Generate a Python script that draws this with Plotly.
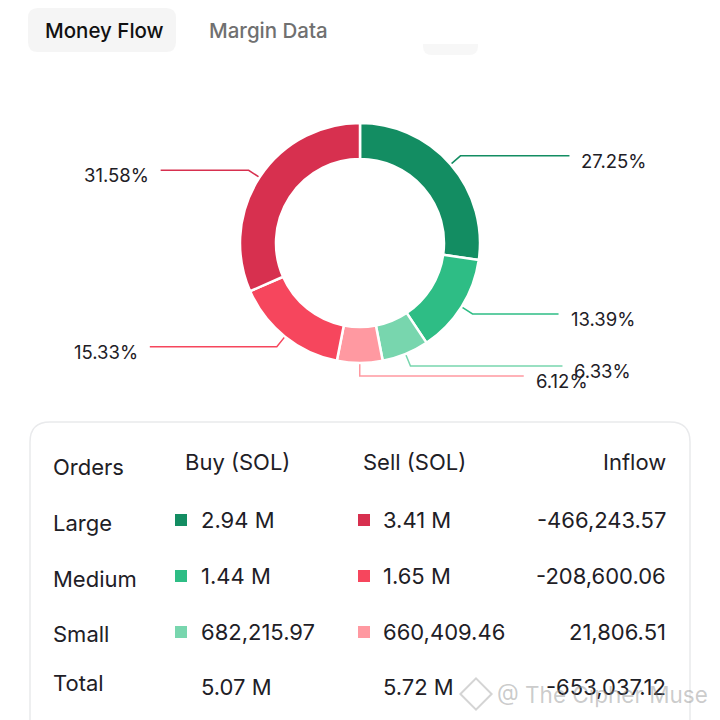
import numpy as np
import plotly.graph_objects as go

# ============================================================
# Data
# ============================================================

# donut slices, clockwise from 12 o'clock
slice_names = ["Large buy", "Medium buy", "Small buy", "Small sell", "Medium sell", "Large sell"]
slice_pct = [27.25, 13.39, 6.33, 6.12, 15.33, 31.58]
slice_colors = ["#138D62", "#2EBD85", "#78D6AE", "#FF99A1", "#F6465D", "#D7304F"]

# table
table_header = ["Orders", "Buy (SOL)", "Sell (SOL)", "Inflow"]
orders = ["Large", "Medium", "Small", "Total"]
buy_text = ["2.94 M", "1.44 M", "682,215.97", "5.07 M"]
sell_text = ["3.41 M", "1.65 M", "660,409.46", "5.72 M"]
inflow_text = ["-466,243.57", "-208,600.06", "21,806.51", "-653,037.12"]
buy_colors = ["#138D62", "#2EBD85", "#78D6AE"]
sell_colors = ["#D7304F", "#F6465D", "#FF99A1"]

tabs = ["Money Flow", "Margin Data"]

# ============================================================
# Layout constants (pixels, 720x720 page)
# ============================================================

W = H = 720
CX, CY, R = 360, 243, 120
HOLE = 0.70
EXT = 13                                   # radial part of leader line
LINE2 = [109, 86, 152, 164, 127, 88]       # horizontal part of leader line
FONT = "Inter"
INK = "#1E2026"
TABLE_SIZE = 22

fig = go.Figure()

# ------------------------------------------------------------
# Donut
# ------------------------------------------------------------
fig.add_trace(go.Pie(
    labels=slice_names,
    values=slice_pct,
    sort=False,
    direction="clockwise",
    rotation=0,
    hole=HOLE,
    textinfo="none",
    hoverinfo="skip",
    showlegend=False,
    marker=dict(colors=slice_colors, line=dict(color="white", width=2.5)),
    domain=dict(x=[(CX - R) / W, (CX + R) / W], y=[1 - (CY + R) / H, 1 - (CY - R) / H]),
))

# leader lines + percentage labels, from slice mid angles
cum = np.concatenate([[0], np.cumsum(slice_pct)])
mid_deg = (cum[:-1] + cum[1:]) / 2 * 3.6
annotations = []
for i, deg in enumerate(mid_deg):
    a = np.deg2rad(deg)
    sx, sy = CX + R * np.sin(a), CY - R * np.cos(a)
    ex, ey = sx + EXT * np.sin(a), sy - EXT * np.cos(a)
    right = deg < 185
    hx = ex + LINE2[i] if right else ex - LINE2[i]
    fig.add_trace(go.Scatter(
        x=[sx, ex, hx], y=[sy, ey, ey], mode="lines",
        line=dict(color=slice_colors[i], width=1.5),
        hoverinfo="skip", showlegend=False,
    ))
    annotations.append(dict(
        x=hx + (10 if right else -10), y=ey + 5, xref="x", yref="y",
        text=f"{slice_pct[i]:.2f}%", showarrow=False,
        xanchor="left" if right else "right", yanchor="middle",
        font=dict(family=FONT, size=18.5, color=INK),
    ))

# ------------------------------------------------------------
# Tabs
# ------------------------------------------------------------
def rounded_rect(x0, y0, x1, y1, r):
    return (f"M{x0+r},{y0} L{x1-r},{y0} Q{x1},{y0} {x1},{y0+r} "
            f"L{x1},{y1-r} Q{x1},{y1} {x1-r},{y1} L{x0+r},{y1} "
            f"Q{x0},{y1} {x0},{y1-r} L{x0},{y0+r} Q{x0},{y0} {x0+r},{y0} Z")


shapes = [
    dict(type="path", path=rounded_rect(28, 8, 176, 52, 10), xref="x", yref="y",
         fillcolor="#F5F5F5", line=dict(width=0), layer="below"),
    dict(type="path", path=rounded_rect(423, 30, 478, 55, 9), xref="x", yref="y",
         fillcolor="#F7F7F7", line=dict(width=0), layer="below"),
    dict(type="path", path=rounded_rect(30, 422, 690, 760, 20), xref="x", yref="y",
         fillcolor="rgba(0,0,0,0)", line=dict(color="#E9EAEC", width=1.5), layer="below"),
]
# hide the top part of the faint chip (it sits under the tab bar)
shapes.append(dict(type="rect", x0=415, x1=485, y0=20, y1=44, xref="x", yref="y",
                   fillcolor="white", line=dict(width=0), layer="below"))

annotations.append(dict(x=43, y=30, xref="x", yref="y", text=tabs[0], showarrow=False,
                        xanchor="left", yanchor="middle",
                        font=dict(family=FONT, size=20.5, color="#111111", weight=500)))
annotations.append(dict(x=207, y=30, xref="x", yref="y", text=tabs[1], showarrow=False,
                        xanchor="left", yanchor="middle",
                        font=dict(family=FONT, size=20.5, color="#707070", weight=500)))

# ------------------------------------------------------------
# Table
# ------------------------------------------------------------
HEAD_Y = [467, 462, 462, 462]
HEAD_X = [51, 183, 361, 668]
HEAD_ANCHOR = ["left", "left", "left", "right"]
ROW_Y = [520, 576, 632, 687]
LABEL_Y = [523, 579, 634, 683]
BUY_SQ_X, BUY_TX_X = 181, 199
SELL_SQ_X, SELL_TX_X = 364, 381
INFLOW_X = 668

for txt, x, y, anc in zip(table_header, HEAD_X, HEAD_Y, HEAD_ANCHOR):
    annotations.append(dict(x=x, y=y, xref="x", yref="y", text=txt, showarrow=False,
                            xanchor=anc, yanchor="middle",
                            font=dict(family=FONT, size=TABLE_SIZE, color=INK)))

for i, name in enumerate(orders):
    annotations.append(dict(x=51, y=LABEL_Y[i], xref="x", yref="y", text=name, showarrow=False,
                            xanchor="left", yanchor="middle",
                            font=dict(family=FONT, size=TABLE_SIZE, color=INK)))
    for txt, x in ((buy_text[i], BUY_TX_X), (sell_text[i], SELL_TX_X)):
        annotations.append(dict(x=x, y=ROW_Y[i], xref="x", yref="y", text=txt, showarrow=False,
                                xanchor="left", yanchor="middle",
                                font=dict(family=FONT, size=TABLE_SIZE, color=INK)))
    annotations.append(dict(x=INFLOW_X, y=ROW_Y[i], xref="x", yref="y", text=inflow_text[i],
                            showarrow=False, xanchor="right", yanchor="middle",
                            font=dict(family=FONT, size=TABLE_SIZE, color=INK)))

# colour chips
fig.add_trace(go.Scatter(
    x=[BUY_SQ_X] * len(buy_colors) + [SELL_SQ_X] * len(sell_colors),
    y=ROW_Y[:3] + ROW_Y[:3],
    mode="markers",
    marker=dict(symbol="square", size=12, color=buy_colors + sell_colors, line=dict(width=0)),
    hoverinfo="skip", showlegend=False,
))

# watermark
fig.add_trace(go.Scatter(
    x=[476], y=[694], mode="markers",
    marker=dict(symbol="diamond-open", size=24, color="rgba(160,160,160,0.45)",
                line=dict(width=2)),
    hoverinfo="skip", showlegend=False,
))
annotations.append(dict(x=495, y=694, xref="x", yref="y", text="@ The Cipher Muse",
                        showarrow=False, xanchor="left", yanchor="middle",
                        font=dict(family=FONT, size=22.5, color="rgba(140,140,140,0.45)")))

fig.update_layout(
    width=W, height=H,
    margin=dict(l=0, r=0, t=0, b=0),
    paper_bgcolor="white", plot_bgcolor="white",
    xaxis=dict(range=[0, W], visible=False, fixedrange=True),
    yaxis=dict(range=[H, 0], visible=False, fixedrange=True),
    shapes=shapes,
    annotations=annotations,
    showlegend=False,
)

fig.write_html("out.html", config={"displayModeBar": False},
               post_script="document.body.style.margin = '0';")
